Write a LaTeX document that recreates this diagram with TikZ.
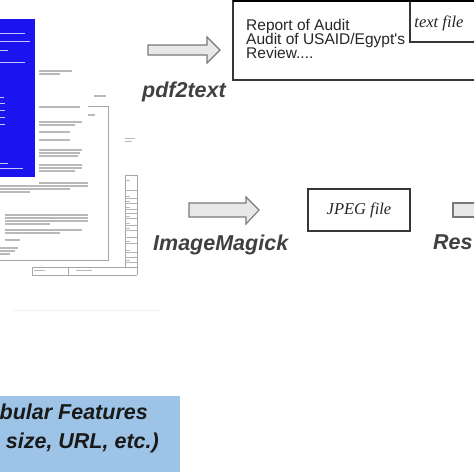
\documentclass[tikz,border=0pt]{standalone}
\usepackage{fontspec}
\newfontfamily\arialf{Liberation Sans}
\newfontfamily\timesf{Liberation Serif}
\definecolor{docblue}{RGB}{28,20,238}
\definecolor{arrowfill}{RGB}{232,232,232}
\definecolor{arrowedge}{RGB}{120,120,120}
\definecolor{labelgray}{RGB}{64,64,64}
\definecolor{boxedge}{RGB}{55,55,55}
\definecolor{featblue}{RGB}{157,195,230}
\tikzset{
  x=1pt, y=-1pt,
  blockarrow/.style={fill=arrowfill, draw=arrowedge, line width=1.1pt, line join=miter},
  toollabel/.style={font=\arialf\bfseries\itshape\fontsize{21.5}{22}\selectfont, text=labelgray, inner sep=0pt, anchor=base west},
  filebox/.style={draw=boxedge, line width=1.2pt, fill=white},
  filetag/.style={font=\timesf\itshape\fontsize{16.5}{18}\selectfont, text=black!85, inner sep=0pt},
  reporttext/.style={font=\arialf\fontsize{15.5}{15}\selectfont, text=black!85, inner sep=0pt, anchor=base west},
  feattext/.style={font=\arialf\bfseries\itshape\fontsize{21.5}{22}\selectfont, text=black!90, inner sep=0pt, anchor=base east},
  txtline/.style={draw=gray!55, line width=1.2pt},
  bluetxt/.style={draw=white!75!docblue, line width=1pt},
  pageedge/.style={draw=gray!70, line width=0.9pt},
}
\begin{document}
\begin{tikzpicture}
\useasboundingbox (0,0) rectangle (474,474);
\clip (0,0) rectangle (474,474);
\fill[white] (0,0) rectangle (474,474);

% ---------- document collage ----------
% back page (table page)
\draw[pageedge] (32,267) -- (137,267);
\draw[pageedge] (32,275) -- (137,275);
\draw[pageedge] (32,267) -- (32,275);
\draw[pageedge] (68,267) -- (68,275);
\draw[pageedge] (137,175) -- (137,275);
\draw[pageedge] (125,175) -- (125,267);
\draw[pageedge] (125,175) -- (137,175);
\foreach \yy in {190,198,203,209,213,218,225,230,237,243,252,257,262}
  \draw[draw=gray!60, line width=0.6pt] (125,\yy) -- (137,\yy);
\foreach \yy in {180,196,201,207,216,223,228,241,250,260}
  \draw[txtline, line width=0.9pt] (126,\yy) -- (130,\yy);
\draw[txtline, line width=0.9pt] (34,270) -- (45,270);
\draw[txtline, line width=0.9pt] (76,270) -- (92,270);
\draw[txtline, line width=0.9pt] (125,138) -- (135,138);
\draw[txtline, line width=0.9pt] (125,141) -- (132,141);

% front page
\fill[white] (0,106) rectangle (108,260);
\draw[pageedge] (88,106) -- (108,106) -- (108,260) -- (0,260);
\foreach \xa/\xb/\yy in {39/72/71,39/60/74,94/106/96,39/80/107,88/95/115,39/82/122,39/75/125,39/70/132,
  39/70/140,39/82/150,39/80/153,39/78/156,39/82/165,39/82/168,39/75/171,39/88/183,0/88/186,0/70/189,0/30/192,
  5/88/215,5/88/218,5/88/221,5/50/224,5/82/230,5/60/233,5/20/240,0/18/248,0/15/251,0/10/254}
  \draw[txtline] (\xa,\yy) -- (\xb,\yy);

% blue cover
\fill[docblue] (0,19) rectangle (35,177);
\foreach \xa/\xb/\yy in {0/25/33,0/30/41,0/8/50,0/25/62,0/4/97,0/5/103,0/5/110,0/5/117,0/5/124,0/8/163,0/23/168}
  \draw[bluetxt] (\xa,\yy) -- (\xb,\yy);

% faint separator
\draw[draw=gray!12, line width=1pt] (13,310) -- (160,310);

% ---------- pdf2text ----------
\draw[blockarrow] (148,45) -- (207,45) -- (207,37) -- (220,50) -- (207,63) -- (207,55) -- (148,55) -- cycle;
\node[toollabel] (pdf) at (142,97) {pdf2text};

\draw[draw=boxedge, line width=1.3pt, fill=white] (233,0.8) rectangle (490,80);
\node[reporttext] (r1) at (246,30) {Report of Audit};
\node[reporttext] (r2) at (246,44.2) {Audit of USAID/Egypt's};
\node[reporttext] (r3) at (246,58.4) {Review....};
\draw[draw=boxedge, line width=1.3pt, fill=white] (410,0.8) rectangle (490,42);
\draw[draw=black, line width=2pt] (233,0.8) -- (474,0.8);
\node[filetag] (tf) at (439,23) {text file};

% ---------- ImageMagick ----------
\draw[blockarrow] (189,203) -- (246,203) -- (246,197) -- (259,210) -- (246,224) -- (246,217) -- (189,217) -- cycle;
\node[toollabel] (im) at (153,250) {ImageMagick};
\node[filebox, minimum width=102pt, minimum height=42pt, inner sep=0pt] (jpeg) at (359,210) {};
\node[filetag] (jt) at (359,210) {JPEG file};

% ---------- next stage (cropped) ----------
\draw[blockarrow] (453,203) -- (490,203) -- (490,217) -- (453,217) -- cycle;
\node[toollabel] (res) at (433,249) {Res};

% ---------- tabular features ----------
\fill[featblue] (-10,396) rectangle (180,472);
\node[feattext] (f1) at (148,419) {bular Features};
\node[feattext] (f2) at (159,448) {size, URL, etc.)};
\end{tikzpicture}
\end{document}
